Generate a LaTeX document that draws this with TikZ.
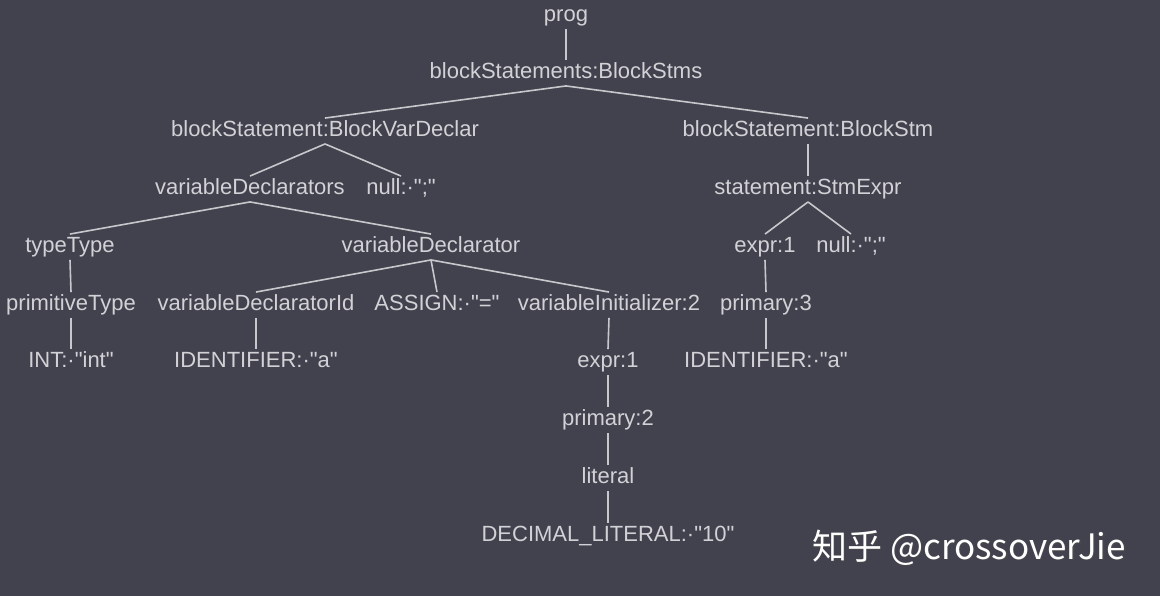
\documentclass[tikz,border=0pt]{standalone}
\usepackage{fontspec}
\setmainfont{Liberation Sans}[Ligatures=TeXOff]
\newfontfamily\cjkfont{Noto Sans CJK SC}
\definecolor{bgc}{HTML}{41424E}
\definecolor{txc}{HTML}{D2D2D6}
\definecolor{lnc}{HTML}{C8C8CC}
\tikzset{
  tn/.style={text=txc, font=\fontsize{22}{25}\selectfont, inner xsep=0pt, inner ysep=3pt, text height=15.5pt, text depth=4pt},
  edge/.style={draw=lnc, line width=1.6pt}
}
\begin{document}
\begin{tikzpicture}[x=1pt,y=-1pt]
\fill[bgc] (0,0) rectangle (1160,596);
\useasboundingbox (0,0) rectangle (1160,596);
% row 1
\node[tn] (prog) at (566,16) {prog};
% row 2
\node[tn] (bss) at (566,73) {blockStatements:BlockStms};
% row 3
\node[tn] (bvd) at (325,131) {blockStatement:BlockVarDeclar};
\node[tn] (bst) at (808,131) {blockStatement:BlockStm};
% row 4
\node[tn] (vds) at (250,189) {variableDeclarators};
\node[tn] (nulla) at (401,189) {null:·";"};
\node[tn] (se) at (808,189) {statement:StmExpr};
% row 5
\node[tn] (tt) at (70,247) {typeType};
\node[tn] (vd) at (431,247) {variableDeclarator};
\node[tn] (expra) at (765,247) {expr:1};
\node[tn] (nullb) at (851,247) {null:·";"};
% row 6
\node[tn] (pt) at (71,305) {primitiveType};
\node[tn] (vdi) at (256,305) {variableDeclaratorId};
\node[tn] (asg) at (437,305) {ASSIGN:·"="};
\node[tn] (vi) at (609,305) {variableInitializer:2};
\node[tn] (primc) at (766,305) {primary:3};
% row 7
\node[tn] (int) at (71,362) {INT:·"int"};
\node[tn] (ida) at (256,362) {IDENTIFIER:·"a"};
\node[tn] (exprb) at (608,362) {expr:1};
\node[tn] (idb) at (766,362) {IDENTIFIER:·"a"};
% rows 8-10
\node[tn] (primb) at (608,420) {primary:2};
\node[tn] (lit) at (608,478) {literal};
\node[tn] (dec) at (608,536) {DECIMAL\_LITERAL:·"10"};
% edges
\draw[edge] (prog.south) -- (bss.north);
\draw[edge] (bss.south) -- (bvd.north);
\draw[edge] (bss.south) -- (bst.north);
\draw[edge] (bvd.south) -- (vds.north);
\draw[edge] (bvd.south) -- (nulla.north);
\draw[edge] (vds.south) -- (tt.north);
\draw[edge] (vds.south) -- (vd.north);
\draw[edge] (tt.south) -- (pt.north);
\draw[edge] (pt.south) -- (int.north);
\draw[edge] (vd.south) -- (vdi.north);
\draw[edge] (vd.south) -- (asg.north);
\draw[edge] (vd.south) -- (vi.north);
\draw[edge] (vdi.south) -- (ida.north);
\draw[edge] (vi.south) -- (exprb.north);
\draw[edge] (exprb.south) -- (primb.north);
\draw[edge] (primb.south) -- (lit.north);
\draw[edge] (lit.south) -- (dec.north);
\draw[edge] (bst.south) -- (se.north);
\draw[edge] (se.south) -- (expra.north);
\draw[edge] (se.south) -- (nullb.north);
\draw[edge] (expra.south) -- (primc.north);
\draw[edge] (primc.south) -- (idb.north);
% watermark
\node[text=black!70, opacity=0.6, font=\cjkfont\fontsize{35}{38}\selectfont, inner sep=0pt, anchor=base west] (wms) at (813.5,560.5) {知乎 @crossoverJie};
\node[text=white, font=\cjkfont\fontsize{35}{38}\selectfont, inner sep=0pt, anchor=base west] (wm) at (812,559) {知乎 @crossoverJie};
\end{tikzpicture}
\end{document}
